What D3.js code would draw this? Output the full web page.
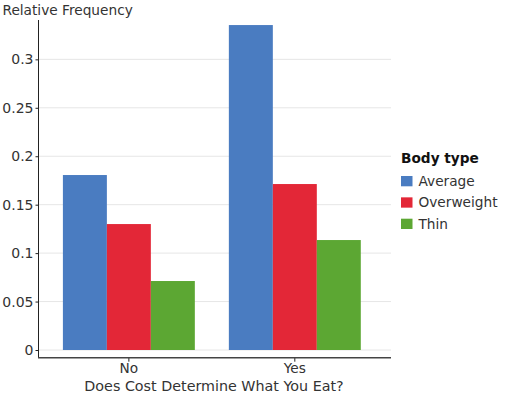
<!DOCTYPE html>
<html>
<head>
<meta charset="utf-8">
<script src="https://cdn.jsdelivr.net/npm/d3@7"></script>
<style>
  body { margin: 0; background: #fff; }
  text { font-family: "DejaVu Sans", Verdana, sans-serif; }
</style>
</head>
<body>
<div id="chart"></div>
<script>
// data
const answers = ["No", "Yes"];
const bodyTypes = ["Average", "Overweight", "Thin"];
const average = [0.1806, 0.3354];
const overweight = [0.1300, 0.1713];
const thin = [0.0712, 0.1135];
const yTicks = [0, 0.05, 0.1, 0.15, 0.2, 0.25, 0.3];
const colors = ["#4a7cc1", "#e32737", "#5ca733"];

const W = 509, H = 397;
const fs = "13.7px";

const svg = d3.select("#chart").append("svg")
    .attr("width", W)
    .attr("height", H);

// scales
const x = d3.scaleBand()
    .domain(answers)
    .range([39, 390])
    .paddingInner(0.205)
    .paddingOuter(0.16)
    .align(0.45);
const xSub = d3.scaleBand()
    .domain(bodyTypes)
    .range([0, x.bandwidth()]);
const y = d3.scaleLinear()
    .domain([0, 0.34])
    .range([350, 20.6]);
const color = d3.scaleOrdinal().domain(bodyTypes).range(colors);

// grid lines
svg.append("g")
    .selectAll("line")
    .data(yTicks)
    .join("line")
    .attr("x1", 39).attr("x2", 391)
    .attr("y1", d => y(d)).attr("y2", d => y(d))
    .attr("stroke", "#e6e6e6")
    .attr("stroke-width", 1);

// bars
const series = [average, overweight, thin];
const rows = [];
answers.forEach((a, i) => {
    bodyTypes.forEach((b, j) => rows.push({ answer: a, type: b, value: series[j][i] }));
});
svg.append("g")
    .selectAll("rect")
    .data(rows)
    .join("rect")
    .attr("x", d => x(d.answer) + xSub(d.type))
    .attr("width", xSub.bandwidth())
    .attr("y", d => y(d.value))
    .attr("height", d => y(0) - y(d.value))
    .attr("fill", d => color(d.type));

// y axis
const yAxis = svg.append("g")
    .attr("transform", "translate(38.5,0)")
    .call(d3.axisLeft(y).tickValues(yTicks).tickFormat(d3.format("~g")).tickSize(3).tickPadding(2));
yAxis.select(".domain").remove();
yAxis.selectAll("line").attr("stroke", "#222");
yAxis.selectAll("text").style("font-size", "14px").attr("fill", "#333");
svg.append("line")
    .attr("x1", 38.5).attr("x2", 38.5)
    .attr("y1", 20).attr("y2", 358)
    .attr("stroke", "#222");

// x axis
const xAxis = svg.append("g")
    .attr("transform", "translate(0,357.7)")
    .call(d3.axisBottom(x).tickSize(4).tickPadding(2));
xAxis.select(".domain").remove();
xAxis.selectAll("line").attr("stroke", "#222");
xAxis.selectAll("text").style("font-size", fs).attr("fill", "#333");
svg.append("line")
    .attr("x1", 38).attr("x2", 391)
    .attr("y1", 357.7).attr("y2", 357.7)
    .attr("stroke", "#444")
    .attr("stroke-width", 1.6);

// axis titles
svg.append("text")
    .attr("x", 2.5)
    .attr("y", 15)
    .style("font-size", fs)
    .attr("fill", "#333")
    .text("Relative Frequency");
svg.append("text")
    .attr("x", 214)
    .attr("y", 390.5)
    .attr("text-anchor", "middle")
    .style("font-size", "14.3px")
    .attr("fill", "#333")
    .text("Does Cost Determine What You Eat?");

// legend
const legend = svg.append("g").attr("transform", "translate(401,0)");
legend.append("text")
    .attr("x", 0)
    .attr("y", 163)
    .style("font-size", fs)
    .style("font-weight", "bold")
    .attr("fill", "#111")
    .text("Body type");
const item = legend.selectAll(".item")
    .data(bodyTypes)
    .join("g")
    .attr("class", "item")
    .attr("transform", (d, i) => `translate(0,${176 + i * 21.35})`);
item.append("rect")
    .attr("width", 11.5)
    .attr("height", 10.3)
    .attr("fill", d => color(d));
item.append("text")
    .attr("x", 17.5)
    .attr("y", 10)
    .style("font-size", fs)
    .attr("fill", "#333")
    .text(d => d);
</script>
</body>
</html>
